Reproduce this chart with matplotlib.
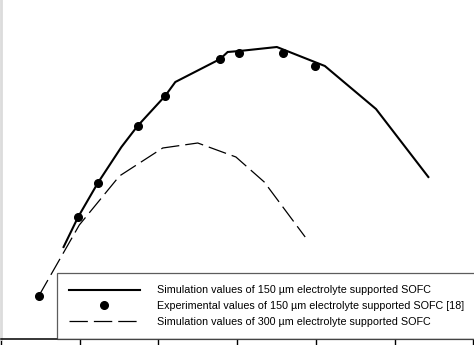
import numpy as np
import matplotlib
matplotlib.use('Agg')
import matplotlib.pyplot as plt

plt.rcParams['font.family'] = ['Liberation Sans', 'DejaVu Sans']

# current density (A/cm2) and power density (W/cm2)
sim150_x = [0.159, 0.196, 0.246, 0.306, 0.347, 0.417, 0.443, 0.557, 0.576,
            0.606, 0.701, 0.823, 0.953, 1.086]
sim150_y = [0.092, 0.122, 0.156, 0.192, 0.213, 0.243, 0.257, 0.280, 0.287,
            0.288, 0.292, 0.273, 0.230, 0.162]

exp150_x = [0.096, 0.196, 0.246, 0.347, 0.417, 0.557, 0.606, 0.717, 0.797]
exp150_y = [0.043, 0.122, 0.156, 0.213, 0.243, 0.280, 0.286, 0.286, 0.273]

sim300_x = [0.096, 0.199, 0.301, 0.411, 0.500, 0.597, 0.669, 0.773]
sim300_y = [0.043, 0.114, 0.163, 0.191, 0.196, 0.182, 0.157, 0.102]

xticks = [0, 0.2, 0.4, 0.6, 0.8, 1.0, 1.2]

labels = ['Simulation values of 150 \u00b5m electrolyte supported SOFC',
          'Experimental values of 150 \u00b5m electrolyte supported SOFC [18]',
          'Simulation values of 300 \u00b5m electrolyte supported SOFC']

fig = plt.figure(figsize=(4.74, 3.45), dpi=100)
# the picture is a crop of a bigger chart: axes run off the top and right
ax = fig.add_axes([1.0 / 474, 6.0 / 345, 1.2 * 393.5 / 474, 339.0 / 345])

l1, = ax.plot(sim150_x, sim150_y, color='black', lw=1.5, solid_joinstyle='miter')
l2, = ax.plot(exp150_x, exp150_y, 'o', color='black', ms=5.5, ls='none')
l3, = ax.plot(sim300_x, sim300_y, color='black', lw=0.9, ls=(0, (14.7, 4.8)))

ax.set_xlim(0, 1.2)
ax.set_ylim(0, 0.339)
ax.set_xticks(xticks)
ax.set_xticklabels([])
ax.set_yticks([])
ax.tick_params(axis='x', direction='out', length=5, width=1.0, color='black')
ax.spines['top'].set_visible(False)
ax.spines['right'].set_visible(False)
ax.spines['bottom'].set_linewidth(1.1)
ax.spines['left'].set_color('#dcdcdc')
ax.spines['left'].set_linewidth(2)

leg = fig.legend([l1, l2, l3], labels, loc='lower left',
                 bbox_to_anchor=(57.0 / 474, 6.0 / 345), borderaxespad=0,
                 fontsize=7.75, frameon=True, fancybox=False, handlelength=6.6,
                 handletextpad=1.6, borderpad=1.1, labelspacing=0.55)
leg.get_frame().set_edgecolor('#333333')
leg.get_frame().set_linewidth(0.9)

fig.savefig('out.png', dpi=100)
